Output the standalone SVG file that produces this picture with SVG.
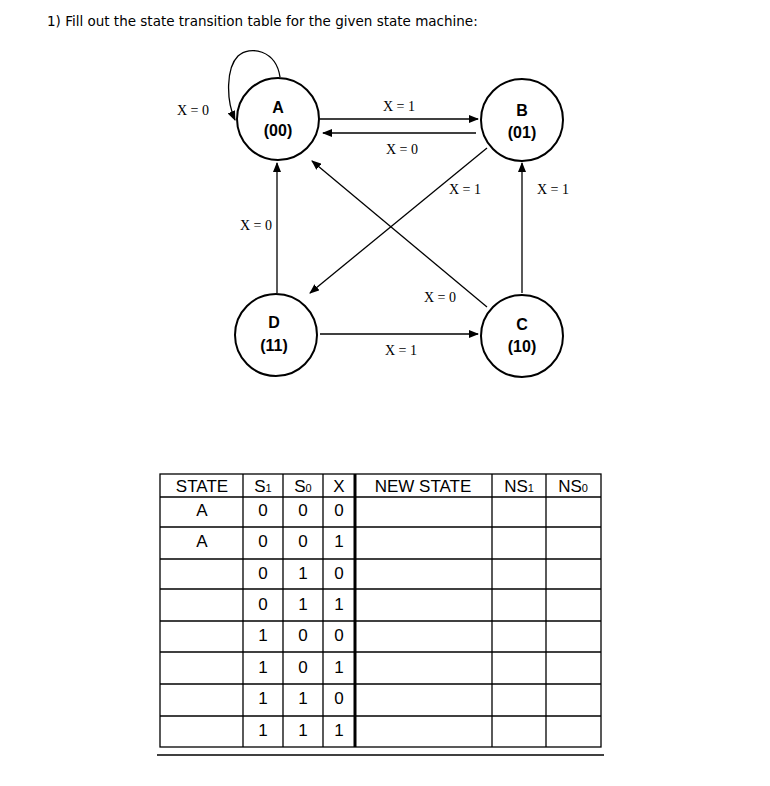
<svg xmlns="http://www.w3.org/2000/svg" width="770" height="786" viewBox="0 0 770 786">
<style>
.n{fill:#fff;stroke:#000;stroke-width:2}
.nl{font-family:"Liberation Sans",Arial,sans-serif;font-weight:bold;font-size:16px;text-anchor:middle}
.c{stroke:#000;stroke-width:1.3;fill:none;marker-end:url(#ah)}
.el{font-family:"Liberation Serif",serif;font-size:14px;text-anchor:middle}
.g{stroke:#000;stroke-width:1.3}
.t{font-family:"Liberation Sans",Arial,sans-serif;font-size:17px;text-anchor:middle}
.sub{font-size:11px}
</style>
<defs><marker id="ah" markerWidth="10" markerHeight="8" refX="9" refY="4" orient="auto" markerUnits="userSpaceOnUse"><path d="M0,0L10,4L0,8z"/></marker></defs>
<rect width="770" height="786" fill="#fff"/>
<text x="47" y="26" font-family="DejaVu Sans,sans-serif" font-size="13.5">1) Fill out the state transition table for the given state machine:</text>
<g id="connectors">
<path class="c" d="M280,77 C276,50 250,45 238,56 C226,68 226,100 235,120"/>
<text class="el" x="193" y="115">X = 0</text>
<line class="c" x1="320" y1="119" x2="478" y2="119"/>
<text class="el" x="399" y="111">X = 1</text>
<line class="c" x1="476" y1="133" x2="323" y2="133"/>
<text class="el" x="402" y="154">X = 0</text>
<line class="c" x1="487" y1="148" x2="310" y2="293"/>
<text class="el" x="465" y="194">X = 1</text>
<line class="c" x1="487" y1="307" x2="312" y2="161"/>
<text class="el" x="440" y="302">X = 0</text>
<line class="c" x1="277" y1="293" x2="277" y2="163"/>
<text class="el" x="256" y="230">X = 0</text>
<line class="c" x1="522" y1="293" x2="522" y2="163"/>
<text class="el" x="553" y="194">X = 1</text>
<line class="c" x1="320" y1="334" x2="478" y2="334"/>
<text class="el" x="401" y="355">X = 1</text>
</g>
<g id="A"><circle class="n" cx="278" cy="119" r="41"/><text class="nl" x="278" y="113">A</text><text class="nl" x="278" y="136">(00)</text></g>
<g id="B"><circle class="n" cx="522" cy="120" r="41"/><text class="nl" x="522" y="116">B</text><text class="nl" x="522" y="138">(01)</text></g>
<g id="D"><circle class="n" cx="276" cy="335" r="41"/><text class="nl" x="274" y="328">D</text><text class="nl" x="274" y="351">(11)</text></g>
<g id="C"><circle class="n" cx="522" cy="336" r="41"/><text class="nl" x="522" y="330">C</text><text class="nl" x="522" y="352">(10)</text></g>
<g id="table">
<rect x="160" y="474" width="441" height="273" fill="none" class="g"/>
<line class="g" x1="243" y1="474" x2="243" y2="747"/>
<line class="g" x1="283" y1="474" x2="283" y2="747"/>
<line class="g" x1="323" y1="474" x2="323" y2="747"/>
<line stroke="#000" stroke-width="3" x1="355" y1="474" x2="355" y2="747"/>
<line class="g" x1="492" y1="474" x2="492" y2="747"/>
<line class="g" x1="546" y1="474" x2="546" y2="747"/>
<line class="g" x1="160" y1="497" x2="601" y2="497"/>
<line class="g" x1="160" y1="527" x2="601" y2="527"/>
<line class="g" x1="160" y1="559" x2="601" y2="559"/>
<line class="g" x1="160" y1="589" x2="601" y2="589"/>
<line class="g" x1="160" y1="621" x2="601" y2="621"/>
<line class="g" x1="160" y1="652" x2="601" y2="652"/>
<line class="g" x1="160" y1="684" x2="601" y2="684"/>
<line class="g" x1="160" y1="716" x2="601" y2="716"/>
<line class="g" x1="157" y1="755" x2="604" y2="755"/>
<text class="t" x="202" y="492">STATE</text>
<text class="t" x="263" y="492">S<tspan class="sub">1</tspan></text>
<text class="t" x="303" y="492">S<tspan class="sub">0</tspan></text>
<text class="t" x="339" y="492">X</text>
<text class="t" x="423" y="492">NEW STATE</text>
<text class="t" x="519" y="492">NS<tspan class="sub">1</tspan></text>
<text class="t" x="573" y="492">NS<tspan class="sub">0</tspan></text>
<text class="t" x="202" y="516">A</text><text class="t" x="263" y="516">0</text><text class="t" x="303" y="516">0</text><text class="t" x="339" y="516">0</text>
<text class="t" x="202" y="547">A</text><text class="t" x="263" y="547">0</text><text class="t" x="303" y="547">0</text><text class="t" x="339" y="547">1</text>
<text class="t" x="263" y="579">0</text><text class="t" x="303" y="579">1</text><text class="t" x="339" y="579">0</text>
<text class="t" x="263" y="610">0</text><text class="t" x="303" y="610">1</text><text class="t" x="339" y="610">1</text>
<text class="t" x="263" y="641">1</text><text class="t" x="303" y="641">0</text><text class="t" x="339" y="641">0</text>
<text class="t" x="263" y="673">1</text><text class="t" x="303" y="673">0</text><text class="t" x="339" y="673">1</text>
<text class="t" x="263" y="704">1</text><text class="t" x="303" y="704">1</text><text class="t" x="339" y="704">0</text>
<text class="t" x="263" y="736">1</text><text class="t" x="303" y="736">1</text><text class="t" x="339" y="736">1</text>
</g>
</svg>
